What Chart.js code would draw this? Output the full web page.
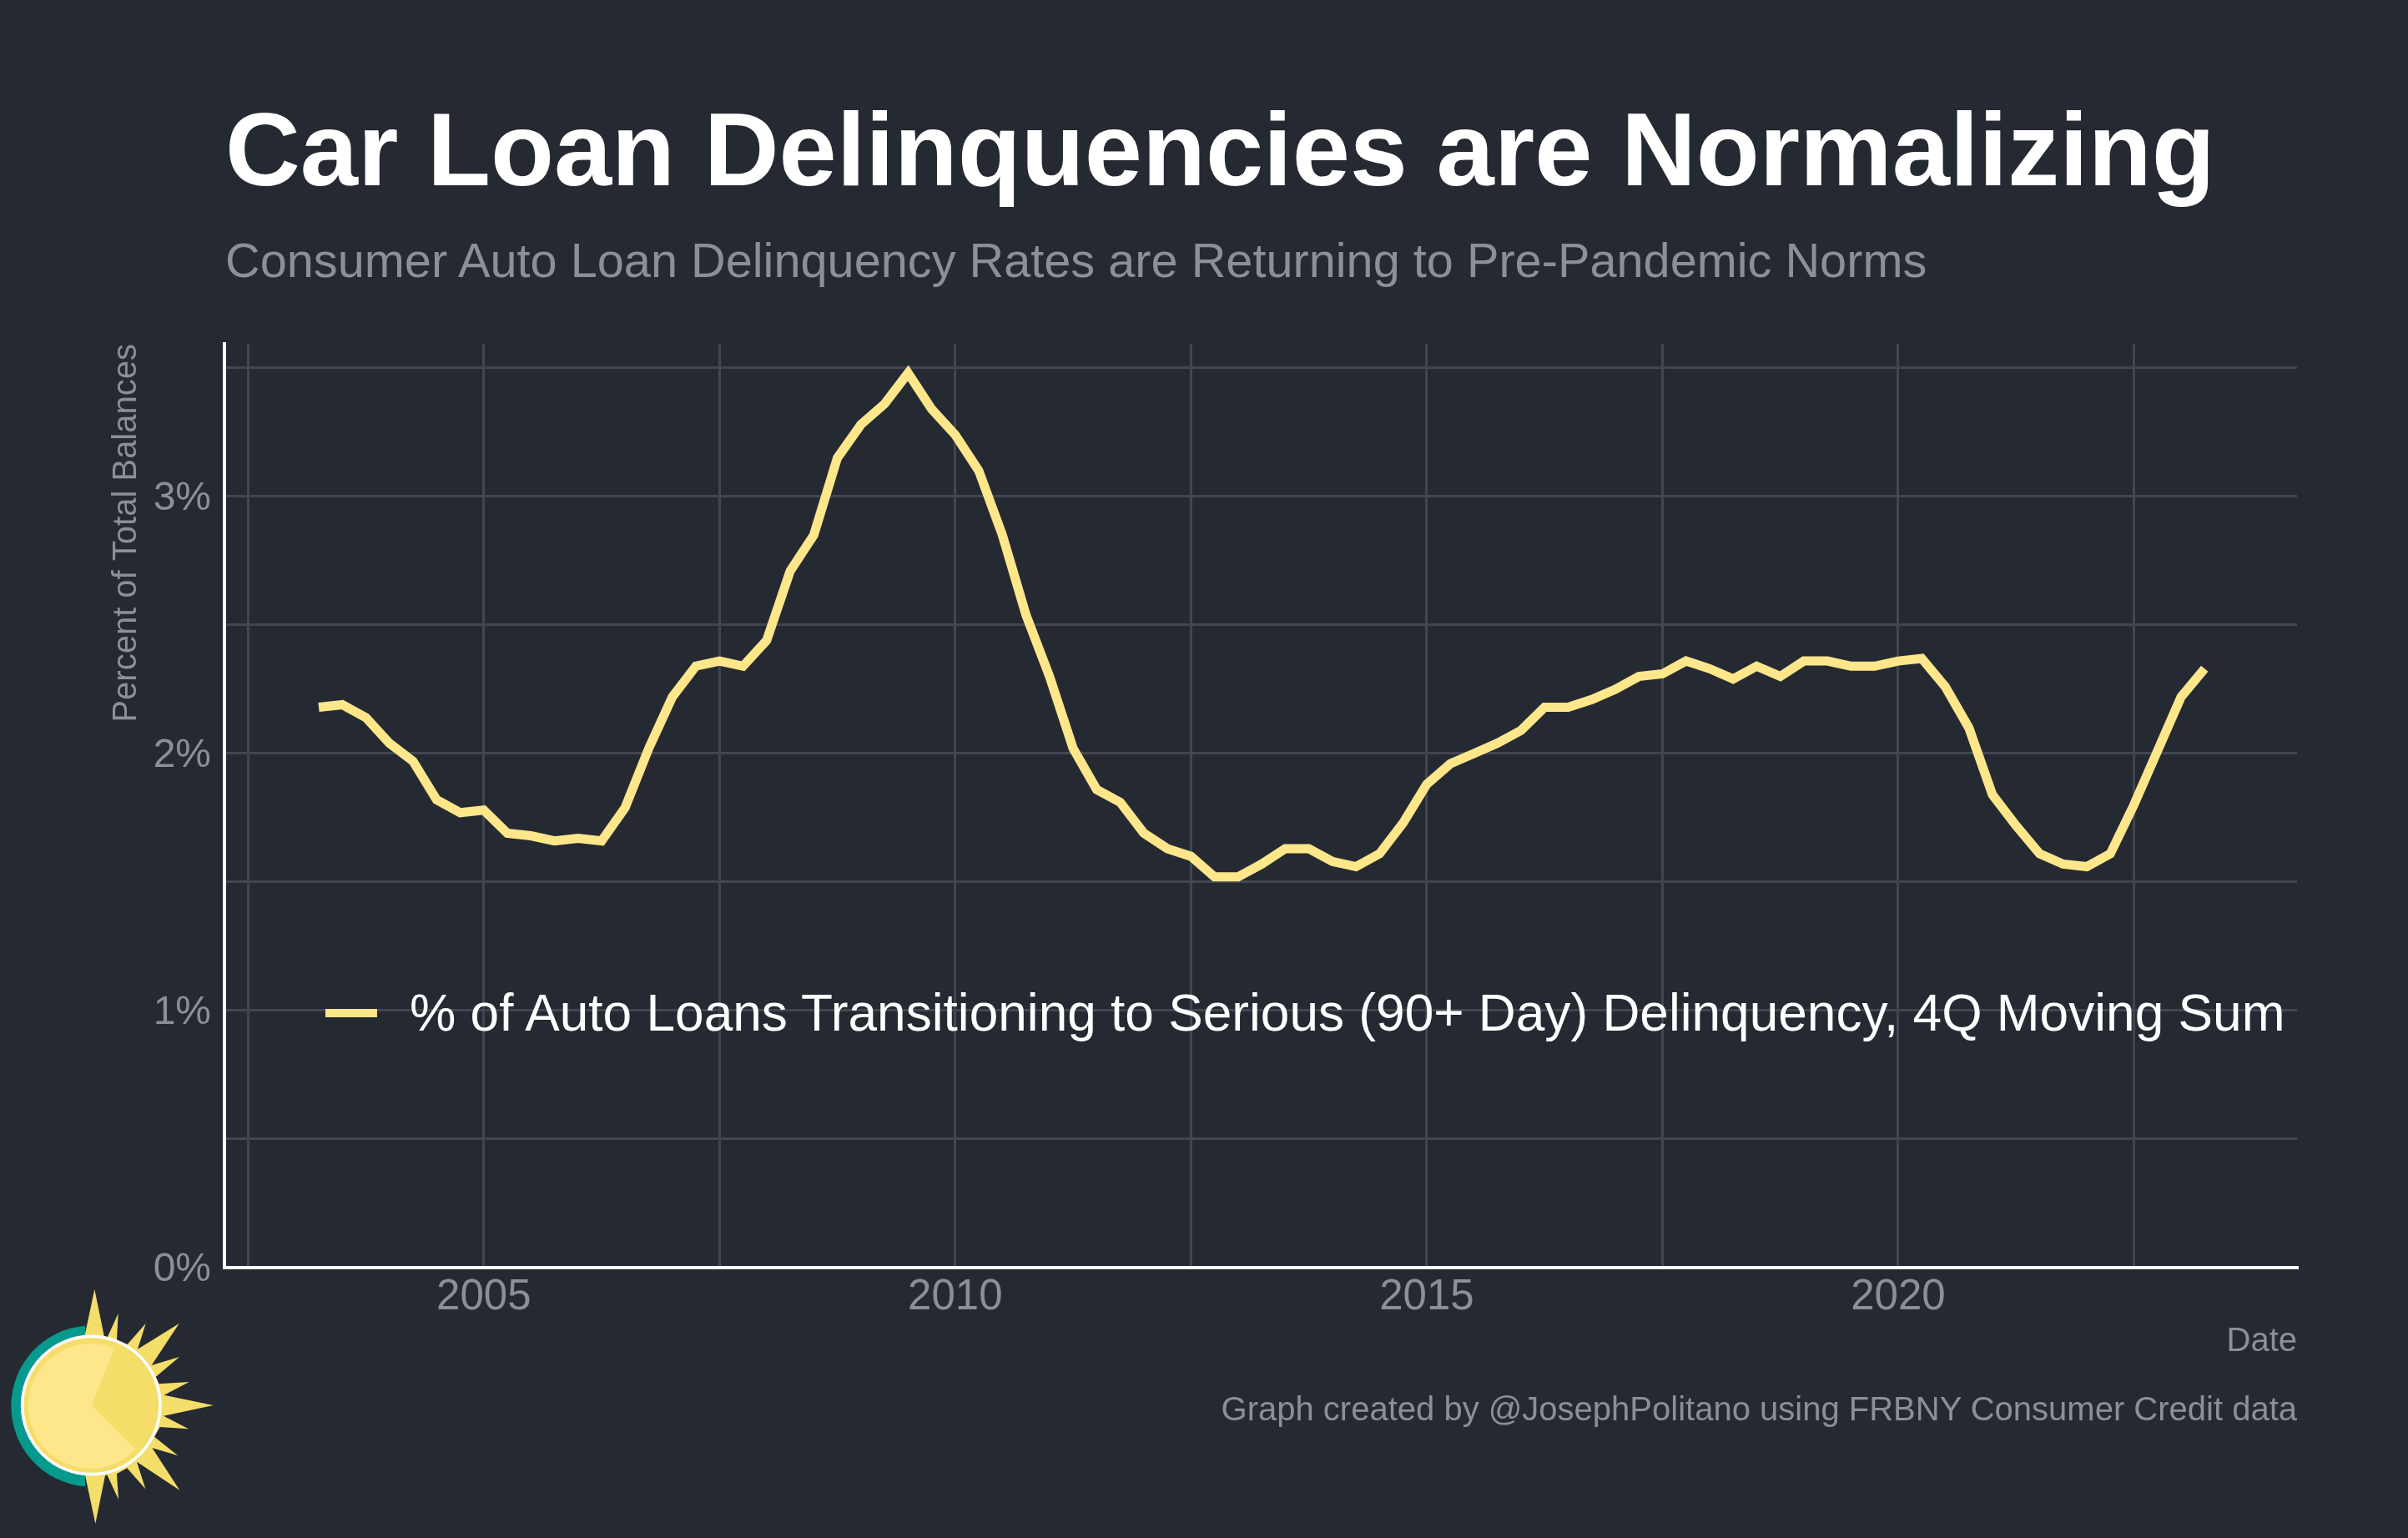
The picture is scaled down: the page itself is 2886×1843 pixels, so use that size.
<!DOCTYPE html>
<html>
<head>
<meta charset="utf-8">
<script src="https://cdn.jsdelivr.net/npm/chart.js@4"></script>
<style>
  html, body { margin: 0; padding: 0; background: #252a32; }
  body { position: relative; width: 2886px; height: 1843px; overflow: hidden; font-family: "Liberation Sans", Arial, sans-serif; }
  canvas { position: absolute; left: 0; top: 0; }
  .txt { position: absolute; white-space: nowrap; line-height: 1; }
  #title { left: 270px; top: 117px; font-size: 124.4px; font-weight: bold; color: #ffffff; }
  #subtitle { left: 270px; top: 284px; font-size: 57.7px; color: #8d8f95; }
  #caption { right: 133px; top: 1668px; font-size: 40px; color: #8d8f95; }
  #legendText { left: 491px; top: 1183px; font-size: 62.2px; color: #ffffff; }
  #legendSwatch { position: absolute; left: 390px; top: 1209px; width: 62px; height: 10px; background: #fee68a; }
  #sun { position: absolute; left: 0; top: 1480px; }
</style>
</head>
<body>
<canvas id="delinquencyChart" width="2886" height="1843"></canvas>
<div class="txt" id="title">Car Loan Delinquencies are Normalizing</div>
<div class="txt" id="subtitle">Consumer Auto Loan Delinquency Rates are Returning to Pre-Pandemic Norms</div>
<div id="legendSwatch"></div>
<div class="txt" id="legendText">% of Auto Loans Transitioning to Serious (90+ Day) Delinquency, 4Q Moving Sum</div>
<div class="txt" id="caption">Graph created by @JosephPolitano using FRBNY Consumer Credit data</div>

<!-- logo -->
<svg id="sun" width="320" height="363" viewBox="0 0 960 1089">
  <path d="M310,326 A290,290 0 0 0 310,904 Z" fill="#069a8e" transform="translate(-4,0)"/>
  <polygon fill="#f5dd6a" points="305,360 340,195 375,365 385,370 425,282 420,378 458,393 524,318 495,410 644,318 545,468 645,438 560,510 572,535 680,528 590,575 767,612 588,650 678,697 575,690 555,725 640,793 547,765 646,917 492,815 523,913 457,838 420,858 426,950 385,862 378,865 343,1037 307,868"/>
  <circle cx="328" cy="612" r="248" fill="#f5dd6a" stroke="#ffffff" stroke-width="11"/>
  <path d="M330,612 L487,770 A224,224 0 1 1 411,408 Z" fill="#fee68a"/>
</svg>

<script>
// quarterly dates, as decimal years
var quarters = [
  2003.25, 2003.5, 2003.75,
  2004, 2004.25, 2004.5, 2004.75,
  2005, 2005.25, 2005.5, 2005.75,
  2006, 2006.25, 2006.5, 2006.75,
  2007, 2007.25, 2007.5, 2007.75,
  2008, 2008.25, 2008.5, 2008.75,
  2009, 2009.25, 2009.5, 2009.75,
  2010, 2010.25, 2010.5, 2010.75,
  2011, 2011.25, 2011.5, 2011.75,
  2012, 2012.25, 2012.5, 2012.75,
  2013, 2013.25, 2013.5, 2013.75,
  2014, 2014.25, 2014.5, 2014.75,
  2015, 2015.25, 2015.5, 2015.75,
  2016, 2016.25, 2016.5, 2016.75,
  2017, 2017.25, 2017.5, 2017.75,
  2018, 2018.25, 2018.5, 2018.75,
  2019, 2019.25, 2019.5, 2019.75,
  2020, 2020.25, 2020.5, 2020.75,
  2021, 2021.25, 2021.5, 2021.75,
  2022, 2022.25, 2022.5, 2022.75,
  2023, 2023.25
];
var delinquencyRate = [
  2.18, 2.19, 2.14,
  2.04, 1.97, 1.82, 1.77,
  1.78, 1.69, 1.68, 1.66,
  1.67, 1.66, 1.79, 2.02,
  2.22, 2.34, 2.36, 2.34,
  2.44, 2.71, 2.85, 3.15,
  3.28, 3.36, 3.48, 3.34,
  3.24, 3.10, 2.85, 2.54,
  2.30, 2.02, 1.86, 1.81,
  1.69, 1.63, 1.60, 1.52,
  1.52, 1.57, 1.63, 1.63,
  1.58, 1.56, 1.61, 1.73,
  1.88, 1.96, 2.00, 2.04,
  2.09, 2.18, 2.18, 2.21,
  2.25, 2.30, 2.31, 2.36,
  2.33, 2.29, 2.34, 2.30,
  2.36, 2.36, 2.34, 2.34,
  2.36, 2.37, 2.26, 2.10,
  1.84, 1.72, 1.61, 1.57,
  1.56, 1.61, 1.80, 2.01,
  2.22, 2.33
];
var xGridLines = [2002.5, 2005, 2007.5, 2010, 2012.5, 2015, 2017.5, 2020, 2022.5];
var xTickLabels = [2005, 2010, 2015, 2020];
var yGridLines = [0, 0.5, 1, 1.5, 2, 2.5, 3, 3.5];
var yTickLabels = [0, 1, 2, 3];

var gridColor = "#414650";
var mutedText = "#8d8f95";
var fontFamily = '"Liberation Sans", Arial, sans-serif';

var canvasElement = document.getElementById("delinquencyChart");
var config = {
  type: "line",
  data: {
    labels: quarters,
    datasets: [{
      label: "% of Auto Loans Transitioning to Serious (90+ Day) Delinquency, 4Q Moving Sum",
      data: quarters.map(function (q, i) { return { x: q, y: delinquencyRate[i] }; }),
      borderColor: "#fee68a",
      borderWidth: 11,
      borderJoinStyle: "miter",
      pointRadius: 0,
      tension: 0,
      fill: false
    }]
  },
  options: {
    responsive: false,
    animation: false,
    devicePixelRatio: 1,
    layout: { padding: { left: 128, right: 133, top: 412, bottom: 0 } },
    plugins: {
      legend: { display: false },
      title: { display: false },
      tooltip: { enabled: false }
    },
    scales: {
      x: {
        type: "linear",
        min: 2002.25,
        max: 2024.23,
        afterBuildTicks: function (axis) {
          axis.ticks = xGridLines.map(function (v) { return { value: v }; });
        },
        afterFit: function (axis) { axis.height = 324; },
        border: { color: "#ffffff", width: 4 },
        grid: { color: gridColor, lineWidth: 3, drawTicks: false },
        ticks: {
          autoSkip: false,
          maxRotation: 0,
          padding: 5,
          color: mutedText,
          font: { family: fontFamily, size: 51 },
          callback: function (v) { return xTickLabels.indexOf(v) >= 0 ? String(v) : ""; }
        },
        title: {
          display: true,
          text: "Date",
          align: "end",
          color: mutedText,
          font: { family: fontFamily, size: 40 },
          padding: { top: 0, bottom: 211 }
        }
      },
      y: {
        min: 0,
        max: 3.594,
        afterBuildTicks: function (axis) {
          axis.ticks = yGridLines.map(function (v) { return { value: v }; });
        },
        afterFit: function (axis) { axis.width = 141; },
        border: { color: "#ffffff", width: 4 },
        grid: { color: gridColor, lineWidth: 3, drawTicks: false },
        ticks: {
          autoSkip: false,
          padding: 16,
          labelOffset: 3,
          color: mutedText,
          font: { family: fontFamily, size: 48 },
          callback: function (v) { return yTickLabels.indexOf(v) >= 0 ? v + "%" : ""; }
        },
        title: {
          display: true,
          text: "Percent of Total Balances",
          align: "end",
          color: mutedText,
          font: { family: fontFamily, size: 40 },
          padding: { top: 0, bottom: 0 }
        }
      }
    }
  }
};

var lineChart = new Chart(canvasElement, config);
</script>
</body>
</html>
